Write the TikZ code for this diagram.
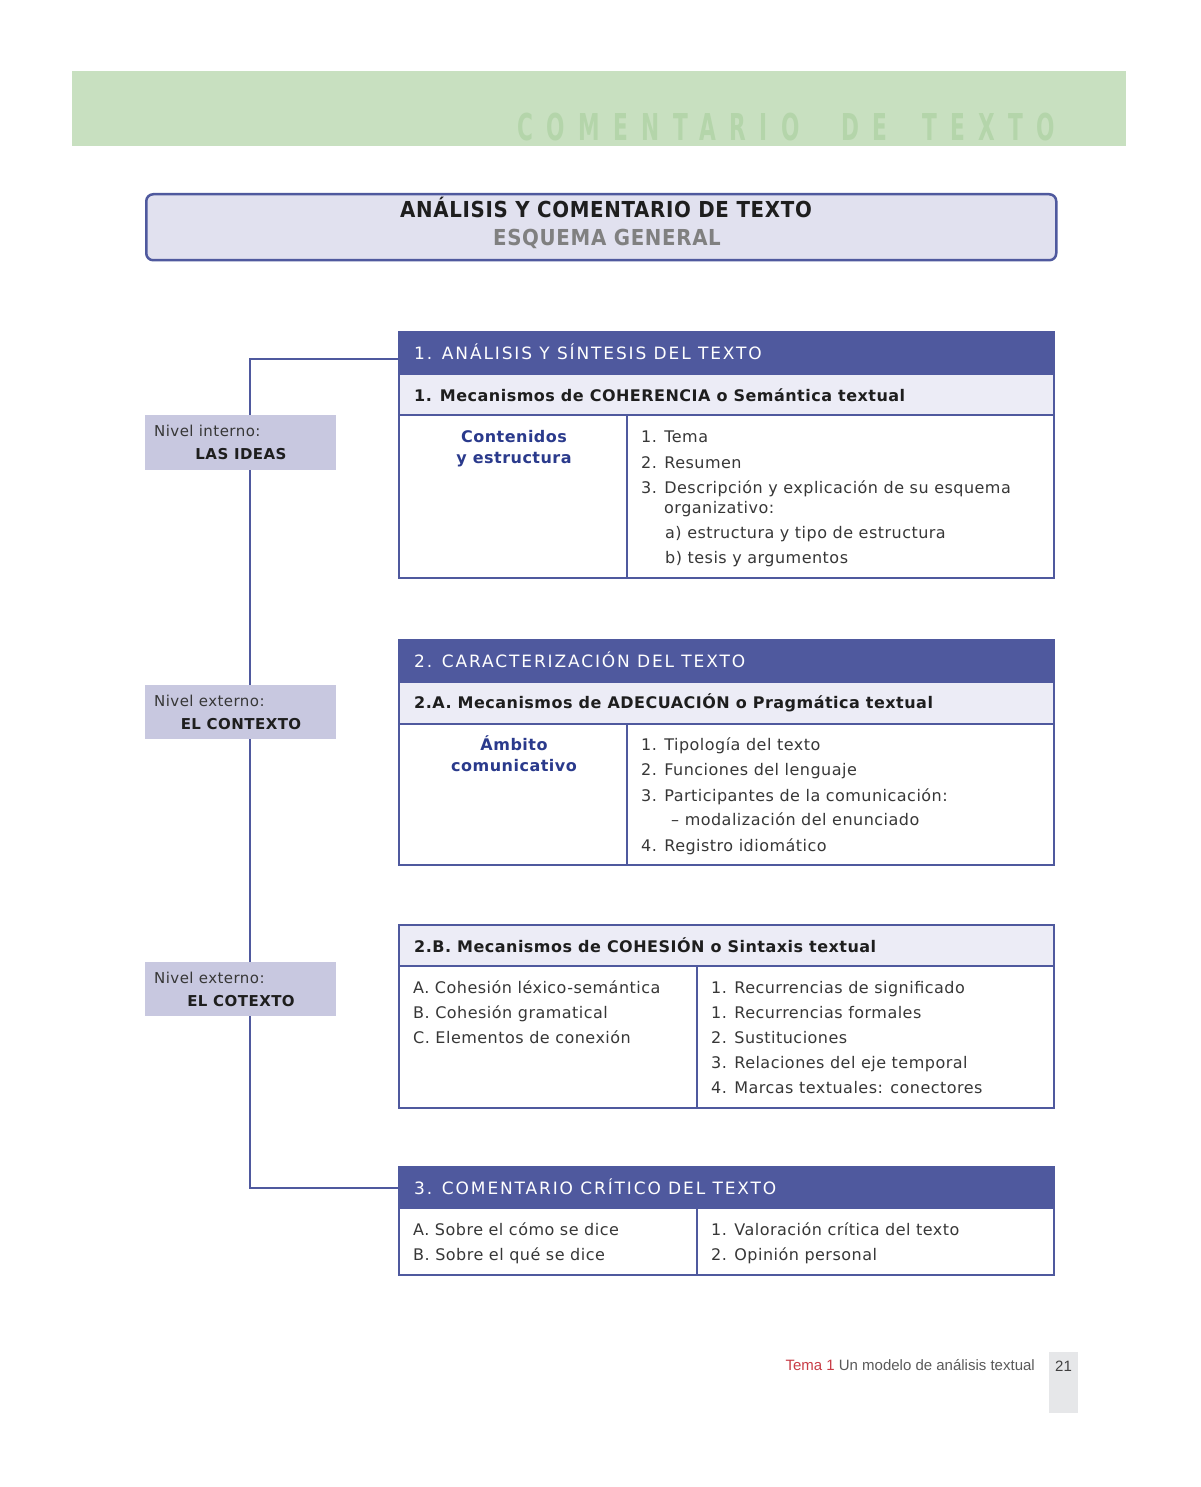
\documentclass[tikz,border=0pt]{standalone}
\usepackage{fontspec}
\setmainfont{DejaVu Sans}
\newfontfamily\bodyf{DejaVu Sans}[LetterSpace=3]
\newfontfamily\headf{DejaVu Sans}[LetterSpace=11]
\newfontfamily\condf{DejaVu Sans Condensed Bold}[LetterSpace=3]
\newfontfamily\bandf{DejaVu Sans Condensed Bold}[LetterSpace=56]
\newfontfamily\footf{Liberation Sans}
\definecolor{bandgreen}{RGB}{200,224,192}
\definecolor{bandtext}{RGB}{180,213,170}
\definecolor{navy}{RGB}{79,89,158}
\definecolor{titlefill}{RGB}{225,225,239}
\definecolor{subfill}{RGB}{236,236,246}
\definecolor{levelfill}{RGB}{200,200,224}
\definecolor{bluetxt}{RGB}{42,58,140}
\definecolor{txtc}{RGB}{55,55,55}
\definecolor{darktxt}{RGB}{30,30,30}
\definecolor{tred}{RGB}{200,60,70}
\definecolor{tgrey}{RGB}{90,90,90}
\definecolor{pagegrey}{RGB}{230,231,233}
\definecolor{subtitle}{RGB}{128,128,128}
\tikzset{
  cell/.style={draw=navy, line width=1.3pt, anchor=north west, inner sep=0pt, outer sep=0pt},
  headcell/.style={cell, fill=navy},
  subcell/.style={cell, fill=subfill},
  bodycell/.style={cell, fill=white},
  txt/.style={anchor=base west, inner sep=0pt, text=txtc, font=\bodyf\fontsize{16}{19}\selectfont},
  htxt/.style={anchor=base west, inner sep=0pt, text=white, font=\headf\fontsize{17}{20}\selectfont},
  stxt/.style={anchor=base west, inner sep=0pt, text=darktxt, font=\bodyf\bfseries\fontsize{16}{19}\selectfont},
  ctxt/.style={anchor=base, inner sep=0pt, text=bluetxt, font=\bodyf\bfseries\fontsize{16}{19}\selectfont},
  level/.style={fill=levelfill, anchor=north west, minimum width=191pt, minimum height=55pt, inner sep=0pt},
  ltxt/.style={anchor=base west, inner sep=0pt, text=txtc, font=\bodyf\fontsize{15}{18}\selectfont},
  lbold/.style={anchor=base, inner sep=0pt, text=darktxt, font=\bodyf\bfseries\fontsize{15}{18}\selectfont},
  conn/.style={draw=navy, line width=2pt},
}
\begin{document}
\begin{tikzpicture}[x=1pt,y=-1pt]
\useasboundingbox (0,0) rectangle (1200,1487);
\fill[white] (0,0) rectangle (1200,1487);
% top band
\node[fill=bandgreen, minimum width=1054pt, minimum height=75pt, anchor=north west, inner sep=0pt] (band) at (72,71) {};
\node[anchor=base west, inner sep=0pt, text=bandtext, font=\bandf\fontsize{37}{40}\selectfont, xscale=0.65] (bandtxt) at (517,141) {COMENTARIO\hspace{64pt}DE\hspace{53pt}TEXTO};
% title box
\node[draw=navy, line width=2.5pt, fill=titlefill, rounded corners=7pt, minimum width=910pt, minimum height=66pt, anchor=north west, inner sep=0pt] (title) at (145,193) {};
\node[anchor=base, inner sep=0pt, text=darktxt, font=\condf\fontsize{22}{24}\selectfont] (tt1) at (606,218) {ANÁLISIS Y COMENTARIO DE TEXTO};
\node[anchor=base, inner sep=0pt, text=subtitle, font=\condf\fontsize{22}{24}\selectfont] (tt2) at (607,246) {ESQUEMA GENERAL};
% section 1
\node[headcell, minimum width=655pt, minimum height=42pt] (h1) at (399,332) {};
\node[subcell, minimum width=655pt, minimum height=41pt] (s1) at (399,374) {};
\node[bodycell, minimum width=228pt, minimum height=163pt] (b1l) at (399,415) {};
\node[bodycell, minimum width=427pt, minimum height=163pt] (b1r) at (627,415) {};
\node[htxt] (h1t) at (414,359) {1. ANÁLISIS Y SÍNTESIS DEL TEXTO};
\node[stxt] (s1t) at (414,401) {1. Mecanismos de COHERENCIA o Semántica textual};
\node[ctxt] (c1a) at (514,442) {Contenidos};
\node[ctxt] (c1b) at (514,463) {y estructura};
\node[txt] (r1a) at (641,442) {1. Tema};
\node[txt] (r1b) at (641,468) {2. Resumen};
\node[txt] (r1c) at (641,493) {3. Descripción y explicación de su esquema};
\node[txt] (r1d) at (664,513) {organizativo:};
\node[txt] (r1e) at (665,538) {a) estructura y tipo de estructura};
\node[txt] (r1f) at (665,563) {b) tesis y argumentos};
% section 2
\node[headcell, minimum width=655pt, minimum height=42pt] (h2) at (399,640) {};
\node[subcell, minimum width=655pt, minimum height=42pt] (s2) at (399,682) {};
\node[bodycell, minimum width=228pt, minimum height=141pt] (b2l) at (399,724) {};
\node[bodycell, minimum width=427pt, minimum height=141pt] (b2r) at (627,724) {};
\node[htxt] (h2t) at (414,667) {2. CARACTERIZACIÓN DEL TEXTO};
\node[stxt] (s2t) at (414,708) {2.A. Mecanismos de ADECUACIÓN o Pragmática textual};
\node[ctxt] (c2a) at (514,750) {Ámbito};
\node[ctxt] (c2b) at (514,771) {comunicativo};
\node[txt] (r2a) at (641,750) {1. Tipología del texto};
\node[txt] (r2b) at (641,775) {2. Funciones del lenguaje};
\node[txt] (r2c) at (641,801) {3. Participantes de la comunicación:};
\node[txt] (r2d) at (671,825) {– modalización del enunciado};
\node[txt] (r2e) at (641,851) {4. Registro idiomático};
% section 2B
\node[subcell, minimum width=655pt, minimum height=41pt] (s2b) at (399,925) {};
\node[bodycell, minimum width=298pt, minimum height=142pt] (b2bl) at (399,966) {};
\node[bodycell, minimum width=357pt, minimum height=142pt] (b2br) at (697,966) {};
\node[stxt] (s2bt) at (414,952) {2.B. Mecanismos de COHESIÓN o Sintaxis textual};
\node[txt] (l3a) at (413,993) {A. Cohesión léxico-semántica};
\node[txt] (l3b) at (413,1018) {B. Cohesión gramatical};
\node[txt] (l3c) at (413,1043) {C. Elementos de conexión};
\node[txt] (r3a) at (711,993) {1. Recurrencias de significado};
\node[txt] (r3b) at (711,1018) {1. Recurrencias formales};
\node[txt] (r3c) at (711,1043) {2. Sustituciones};
\node[txt] (r3d) at (711,1068) {3. Relaciones del eje temporal};
\node[txt] (r3e) at (711,1093) {4. Marcas textuales: conectores};
% section 3
\node[headcell, minimum width=655pt, minimum height=41pt] (h3) at (399,1167) {};
\node[bodycell, minimum width=298pt, minimum height=67pt] (b3l) at (399,1208) {};
\node[bodycell, minimum width=357pt, minimum height=67pt] (b3r) at (697,1208) {};
\node[htxt] (h3t) at (414,1194) {3. COMENTARIO CRÍTICO DEL TEXTO};
\node[txt] (l4a) at (413,1235) {A. Sobre el cómo se dice};
\node[txt] (l4b) at (413,1260) {B. Sobre el qué se dice};
\node[txt] (r4a) at (711,1235) {1. Valoración crítica del texto};
\node[txt] (r4b) at (711,1260) {2. Opinión personal};
% connector spine
\coordinate (spine) at (250,359);
\draw[conn] ([yshift=-6pt]h1.west) -- (spine) |- (h3.west);
% level boxes
\node[level] (L1) at (145,415) {};
\node[ltxt] (L1a) at (154,436) {Nivel interno:};
\node[lbold] (L1b) at (241,459) {LAS IDEAS};
\node[level, minimum height=54pt] (L2) at (145,685) {};
\node[ltxt] (L2a) at (154,706) {Nivel externo:};
\node[lbold] (L2b) at (241,729) {EL CONTEXTO};
\node[level, minimum height=54pt] (L3) at (145,962) {};
\node[ltxt] (L3a) at (154,983) {Nivel externo:};
\node[lbold] (L3b) at (241,1006) {EL COTEXTO};
% footer
\node[anchor=base east, inner sep=0pt, font=\footf\fontsize{15}{17}\selectfont] (foot) at (1035,1370) {\textcolor{tred}{Tema 1} \textcolor{tgrey}{Un modelo de análisis textual}};
\node[fill=pagegrey, anchor=north west, minimum width=29pt, minimum height=61pt, inner sep=0pt] (pg) at (1049,1352) {};
\node[anchor=base, inner sep=0pt, text=black!75, font=\footf\fontsize{15}{17}\selectfont] (pgn) at (1063.5,1371) {21};
\end{tikzpicture}
\end{document}
